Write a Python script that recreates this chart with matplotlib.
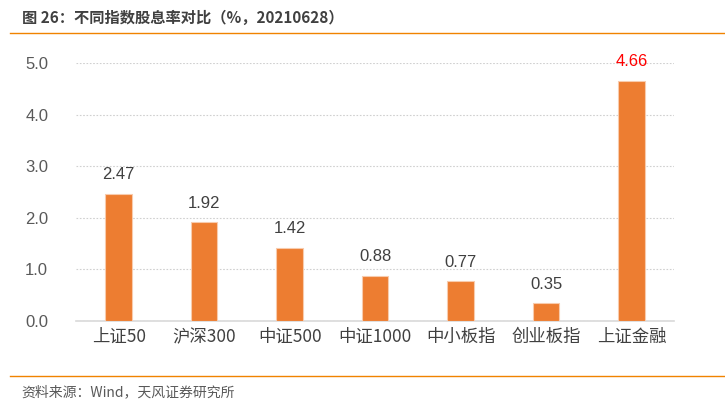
import matplotlib.pyplot as plt
from matplotlib.lines import Line2D

# Daten
categories = ["上证50", "沪深300", "中证500", "中证1000", "中小板指", "创业板指", "上证金融"]
values = [2.47, 1.92, 1.42, 0.88, 0.77, 0.35, 4.66]
label_colors = ['#404040'] * 6 + ['#FF0000']
yticks = [0.0, 1.0, 2.0, 3.0, 4.0, 5.0]

plt.rcParams['font.family'] = ['Liberation Sans', 'Noto Sans CJK SC', 'DejaVu Sans']

fig = plt.figure(figsize=(7.25, 4.09), dpi=100)
ax = fig.add_axes([0.1048, 0.2152, 0.8255, 0.6308])

x = range(len(categories))
ax.bar(x, values, width=0.31, color='#ED7D31', edgecolor='#F8CBAD', linewidth=0.8, zorder=3)

for xi, v, c in zip(x, values, label_colors):
    ax.text(xi, v + 0.22, f"{v:.2f}", ha='center', va='bottom', fontsize=12,
            color=c, clip_on=False)

ax.set_xlim(-0.5, len(categories) - 0.5)
ax.set_ylim(0, 5)
ax.set_yticks(yticks)
ax.set_yticklabels([f"{t:.1f}" for t in yticks], fontsize=12, color='#595959')
ax.set_xticks(list(x))
ax.set_xticklabels(categories, fontsize=12.5, color='#404040', family=['Noto Sans CJK SC'])
ax.tick_params(axis='both', length=0)
ax.tick_params(axis='y', pad=20)
ax.tick_params(axis='x', pad=5)

ax.grid(axis='y', color='#D0D0D0', linestyle=(0, (1.5, 1.5)), linewidth=0.8, zorder=0)
for s in ['top', 'right', 'left']:
    ax.spines[s].set_visible(False)
ax.spines['bottom'].set_color('#D9D9D9')
ax.spines['bottom'].set_linewidth(1.2)

# Titel und Quelle
fig.text(0.03, 0.955, "图 26：不同指数股息率对比（%，20210628）", fontsize=11,
         fontweight='bold', color='#404040', va='center', family=['Noto Sans CJK SC'])
fig.add_artist(Line2D([0.014, 1.0], [0.919, 0.919], color='#F08300', linewidth=1.0))
fig.add_artist(Line2D([0.014, 1.0], [0.081, 0.081], color='#F08300', linewidth=1.0))
fig.text(0.03, 0.04, "资料来源：Wind，天风证券研究所", fontsize=10, color='#595959',
         va='center', family=['Noto Sans CJK SC'])

fig.savefig("out.png", dpi=100)
